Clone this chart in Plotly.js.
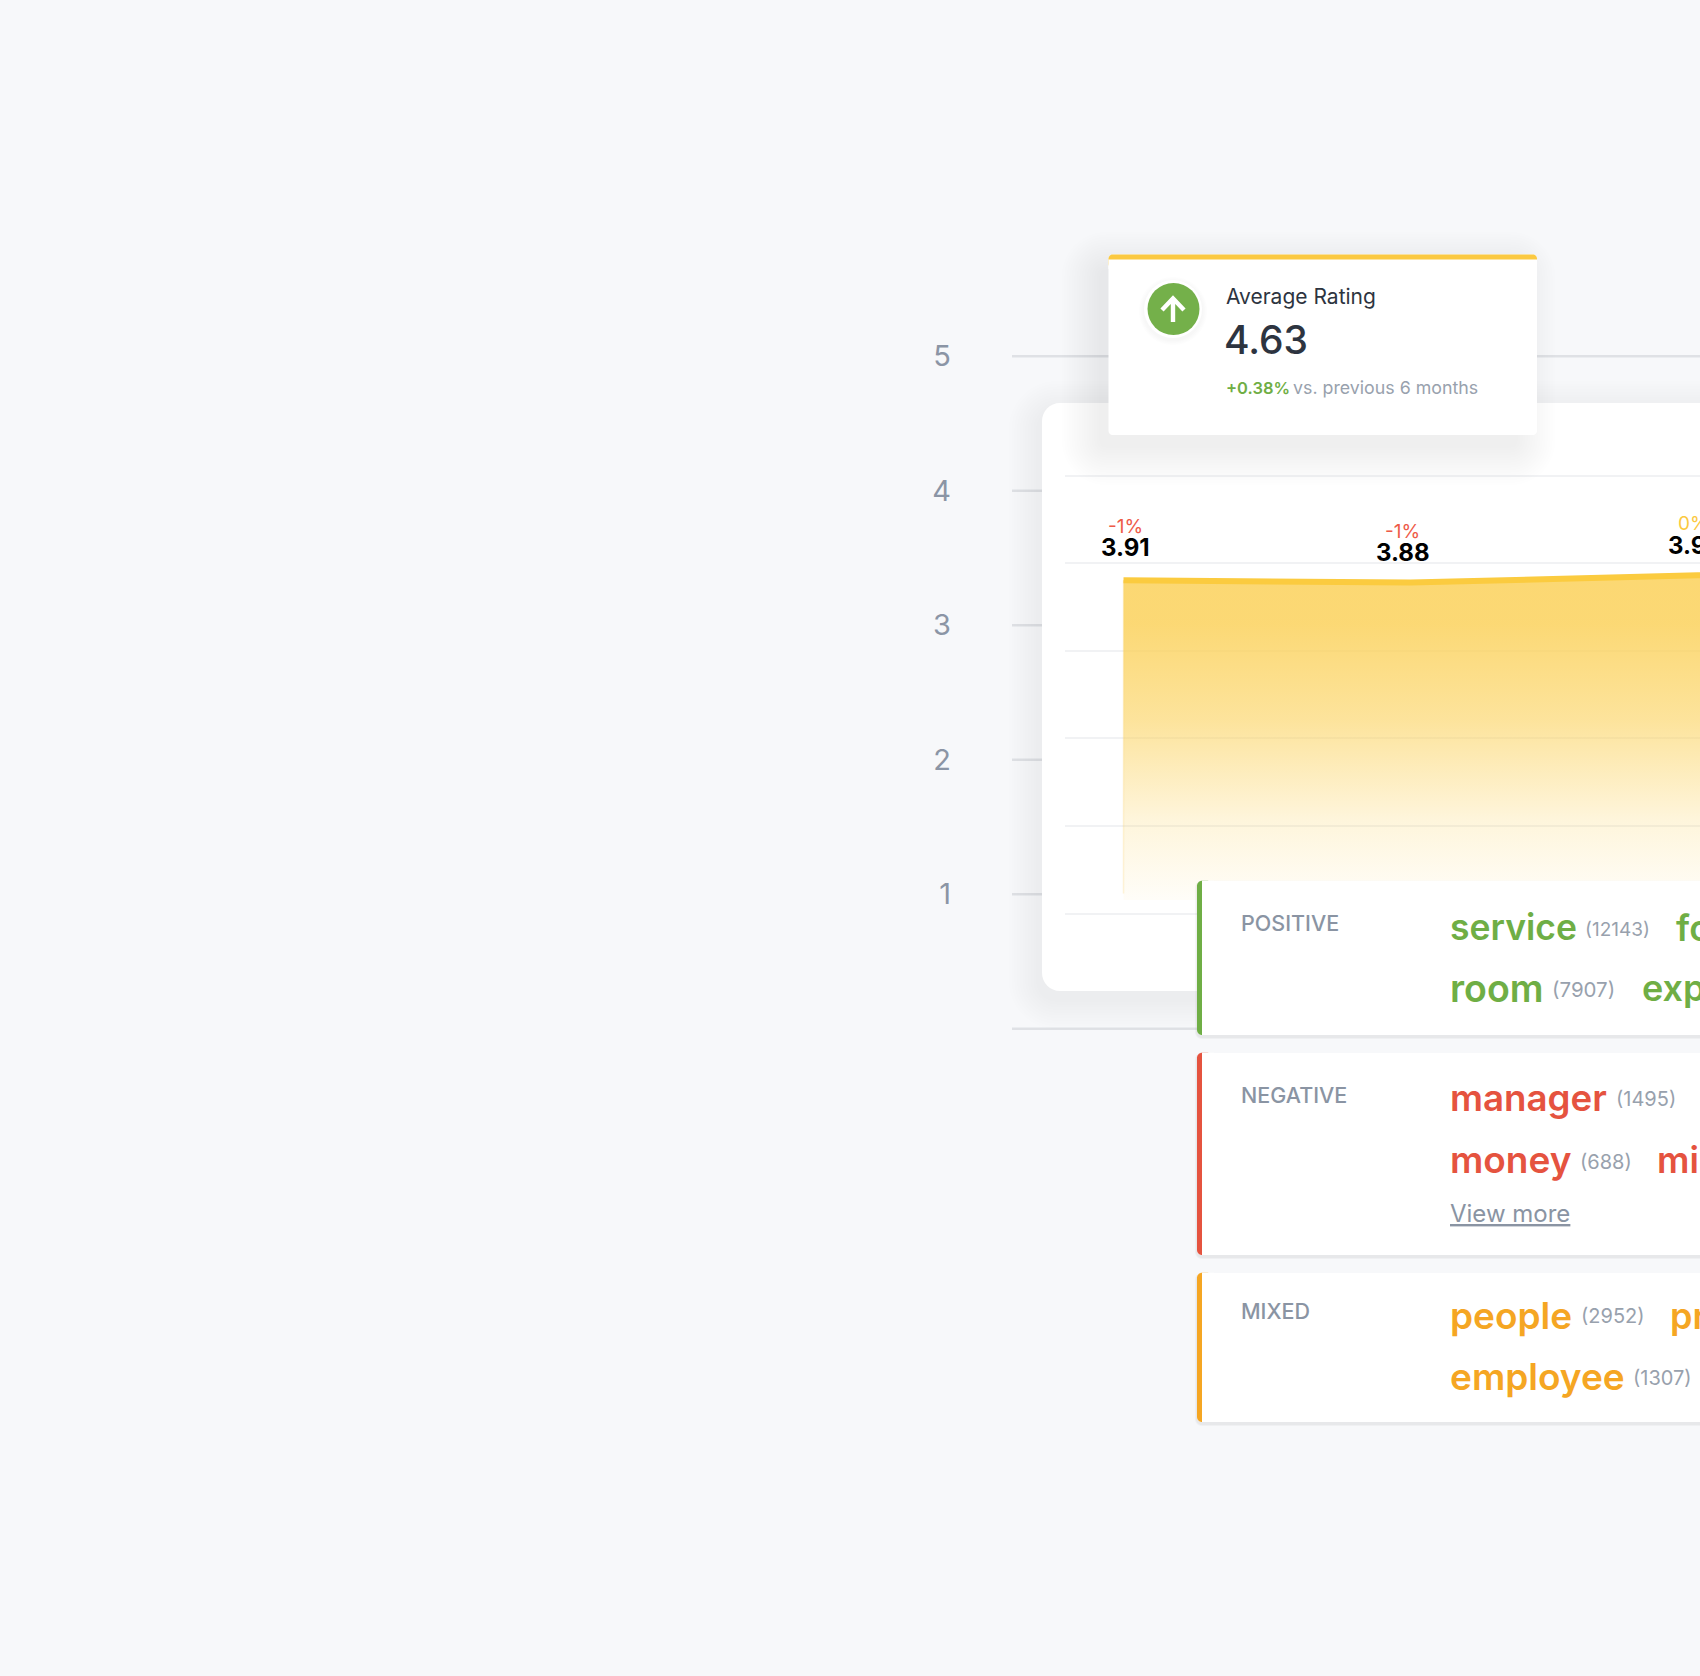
<!DOCTYPE html>
<html>
<head>
<meta charset="utf-8">
<script src="https://cdn.plot.ly/plotly-3.0.1.min.js"></script>
<style>html,body{margin:0;padding:0;background:#f7f8fa;overflow:hidden}#chart{width:1700px;height:1676px}</style>
</head>
<body>
<div id="chart"></div>
<script>
var periods = [0, 1, 2, 3];
var ratingValues = [3.91, 3.88, 3.97, 3.98];
var ratingLabels = ['3.91', '3.88', '3.97'];
var changeLabels = ['-1%', '-1%', '0%'];
var changeColors = ['#ee5a48', '#ee5a48', '#fbc93f'];
var scaleTicks = [0, 1, 2, 3, 4, 5];
var scaleLabels = ['', '1', '2', '3', '4', '5'];

var W = 1700, H = 1676, FONT = 'Inter, "Noto Sans", sans-serif';
function X(p){ return p / W; }
function Y(p){ return 1 - p / H; }
function roundRect(l, t, r, b, rad){
  var k = rad * 0.45;
  return 'M' + X(l + rad) + ',' + Y(t) + ' L' + X(r - rad) + ',' + Y(t) +
    ' C' + X(r - k) + ',' + Y(t) + ' ' + X(r) + ',' + Y(t + k) + ' ' + X(r) + ',' + Y(t + rad) +
    ' L' + X(r) + ',' + Y(b - rad) +
    ' C' + X(r) + ',' + Y(b - k) + ' ' + X(r - k) + ',' + Y(b) + ' ' + X(r - rad) + ',' + Y(b) +
    ' L' + X(l + rad) + ',' + Y(b) +
    ' C' + X(l + k) + ',' + Y(b) + ' ' + X(l) + ',' + Y(b - k) + ' ' + X(l) + ',' + Y(b - rad) +
    ' L' + X(l) + ',' + Y(t + rad) +
    ' C' + X(l) + ',' + Y(t + k) + ' ' + X(l + k) + ',' + Y(t) + ' ' + X(l + rad) + ',' + Y(t) + ' Z';
}
function box(l, t, r, b, rad, fill, layer){
  return {type:'path', xref:'paper', yref:'paper', layer:layer, path:roundRect(l, t, r, b, rad), fillcolor:fill, line:{width:0}};
}
function rect(l, t, r, b, fill){
  return {type:'rect', layer:'above', xref:'paper', yref:'paper', x0:X(l), x1:X(r), y0:Y(t), y1:Y(b), fillcolor:fill, line:{width:0}};
}
// neutral soft shadow: each ring darkens by the same small step
function shadow(l, t, r, b, rad, spread, n, step, dx, dy, layer){
  var out = [];
  var a = step * 2 / 255;
  for (var i = n; i >= 1; i--) {
    var s = spread * i / n;
    out.push(box(l - s + dx, t - s + dy, r + s + dx, b + s + dy, rad + s, 'rgba(107,108,110,' + a + ')', layer));
  }
  return out;
}

var shapes = [];
// outer rating scale lines, behind everything
scaleTicks.forEach(function(v){
  shapes.push({type:'line', layer:'below', xref:'paper', yref:'y2', x0:X(1012), x1:1, y0:v, y1:v, line:{color:'#dfe1e5', width:2.5}});
});
// main white card
shapes = shapes.concat(shadow(1042, 403, 1760, 991, 18, 30, 11, 1, -3, 8, 'below'));
shapes.push(box(1042, 403, 1760, 991, 18, '#ffffff', 'below'));

// overlaid summary card
shapes = shapes.concat(shadow(1112, 258, 1525, 431, 4, 40, 16, 1, -10, 14, 'above'));
shapes.push(box(1108.5, 254.5, 1537, 435, 4, '#ffffff', 'above'));
shapes.push(box(1108.5, 254.5, 1537, 268, 4, '#fbc941', 'above'));
shapes.push(rect(1108.5, 259.5, 1537, 269, '#ffffff'));

// badge
shapes = shapes.concat(shadow(1144, 280, 1202, 338, 29, 5, 4, 2, 0, 2, 'above'));
shapes.push({type:'circle', layer:'above', xref:'paper', yref:'paper', x0:X(1144), x1:X(1202), y0:Y(280), y1:Y(338), fillcolor:'#ffffff', line:{width:0}});
shapes.push({type:'circle', layer:'above', xref:'paper', yref:'paper', x0:X(1147.5), x1:X(1199.5), y0:Y(283), y1:Y(335), fillcolor:'#74b04a', line:{width:0}});
shapes.push({type:'path', layer:'above', xref:'paper', yref:'paper',
  path:'M' + X(1173) + ',' + Y(322) + ' L' + X(1173) + ',' + Y(299) + ' M' + X(1162) + ',' + Y(310) + ' L' + X(1173) + ',' + Y(298.5) + ' L' + X(1184) + ',' + Y(310),
  line:{color:'#ffffff', width:4.4}});

// theme cards
[[880.7, 1035, '#6fae45'], [1052.7, 1255, '#e5533f'], [1272.7, 1422, '#f5a623']].forEach(function(c){
  shapes = shapes.concat(shadow(1197, c[0], 1760, c[1], 5, 2, 2, 7, 0, 2, 'above'));
  shapes.push(box(1197, c[0], 1760, c[1], 5, '#ffffff', 'above'));
  shapes.push(box(1197, c[0], 1212, c[1], 5, c[2], 'above'));
  shapes.push(rect(1202, c[0], 1214, c[1], '#ffffff'));
});

var annotations = [];
function txt(text, left, cy, size, color, weight){
  annotations.push({text:text, xref:'paper', yref:'paper', x:X(left), y:Y(cy), xanchor:'left', yanchor:'middle',
    showarrow:false, borderpad:0, font:{family:FONT, size:size, color:color, weight:weight || 400}});
}
var labelShiftX = [2, -8, -4], valueShiftY = [33, 30, 30], changeShiftY = [54, 51, 52];
ratingLabels.forEach(function(label, i){
  annotations.push({text:label, x:periods[i], y:ratingValues[i], xref:'x', yref:'y', yshift:valueShiftY[i], xshift:labelShiftX[i], showarrow:false,
    xanchor:'center', yanchor:'middle', font:{family:FONT, size:24, color:'#000000', weight:700}});
  annotations.push({text:changeLabels[i], x:periods[i], y:ratingValues[i], xref:'x', yref:'y', yshift:changeShiftY[i], xshift:labelShiftX[i], showarrow:false,
    xanchor:'center', yanchor:'middle', font:{family:FONT, size:19, color:changeColors[i]}});
});
txt('Average Rating', 1224.5, 296, 21, '#2d3440', 400);
txt('4.63', 1223, 339, 39, '#2d3440', 500);
txt('+0.38%', 1225, 387.5, 16.5, '#6fae45', 600);
txt('vs. previous 6 months', 1292, 387.5, 17.8, '#98a1ad', 400);

txt('POSITIVE', 1240, 923, 21.5, '#8a94a3', 500);
txt('NEGATIVE', 1240, 1095, 21.5, '#8a94a3', 500);
txt('MIXED', 1240, 1311, 21.5, '#8a94a3', 500);

var GREEN = '#6fae45', RED = '#e5533f', ORANGE = '#f5a623', GREY = '#98a1ad';
txt('service', 1448.5, 928, 35.5, GREEN, 600);
txt('(12143)', 1584, 929, 19, GREY);
txt('fo', 1675, 928, 36, GREEN, 600);
txt('room', 1448.5, 988, 37.5, GREEN, 600);
txt('(7907)', 1550.5, 989, 20.5, GREY);
txt('exp', 1640.5, 988, 36, GREEN, 600);
txt('manager', 1448.5, 1097, 36.7, RED, 600);
txt('(1495)', 1614.5, 1098.5, 20, GREY);
txt('money', 1448.5, 1159.5, 37, RED, 600);
txt('(688)', 1579, 1161.5, 20, GREY);
txt('mi', 1656, 1159.5, 36, RED, 600);
txt('<u>View more</u>', 1448.5, 1213.5, 24, '#8a94a3');
txt('people', 1448.5, 1315.5, 37, ORANGE, 600);
txt('(2952)', 1580, 1315.5, 20, GREY);
txt('pr', 1669, 1315.5, 36, ORANGE, 600);
txt('employee', 1448.5, 1376, 37, ORANGE, 600);
txt('(1307)', 1632, 1377.5, 20, GREY);

var traces = [
  {type:'scatter', mode:'lines', x:periods, y:ratingValues, fill:'tozeroy', hoverinfo:'skip',
   line:{color:'#fbcb3f', width:6},
   fillgradient:{type:'vertical', colorscale:[[0,'rgba(251,209,90,0.04)'],[0.25,'rgba(251,209,90,0.22)'],[0.55,'rgba(251,209,90,0.6)'],[0.85,'rgba(251,209,90,0.84)'],[1,'rgba(251,209,90,0.85)']]}},
  {type:'scatter', mode:'lines', x:[periods[0], periods[0]], y:[ratingValues[0], 0.08], hoverinfo:'skip',
   line:{color:'rgba(251,205,90,0.22)', width:1.5}},
  {type:'scatter', mode:'lines', x:[], y:[], xaxis:'x2', yaxis:'y2', hoverinfo:'skip'}
];

var layout = {
  width:W, height:H, margin:{l:0, r:0, t:0, b:0, pad:0}, showlegend:false,
  paper_bgcolor:'#f7f8fa', plot_bgcolor:'rgba(0,0,0,0)',
  xaxis:{domain:[X(1065), 1], range:[-58.5/287, 576.5/287], showgrid:false, zeroline:false, showticklabels:false, ticks:'', showline:false},
  yaxis:{domain:[Y(918), Y(470)], range:[-18/81.8, 430/81.8], tickmode:'linear', tick0:-13.5/81.8, dtick:87.6/81.8,
    showgrid:true, gridcolor:'#f1f2f4', gridwidth:2, zeroline:false, showticklabels:false, ticks:'', showline:false},
  xaxis2:{domain:[0, 1], range:[0, 1], visible:false, anchor:'y2'},
  yaxis2:{domain:[0, 1], range:[(1028.7-1676)/134.5, 1028.7/134.5], anchor:'free', position:X(951), side:'left',
    tickmode:'array', tickvals:scaleTicks, ticktext:scaleLabels, showgrid:false, zeroline:false, showline:false, ticks:'',
    ticklabelshift:-2.5, tickfont:{family:FONT, size:29, color:'#8b95a5'}},
  shapes:shapes, annotations:annotations
};
Plotly.newPlot('chart', traces, layout, {displayModeBar:false, staticPlot:true});
</script>
</body>
</html>
